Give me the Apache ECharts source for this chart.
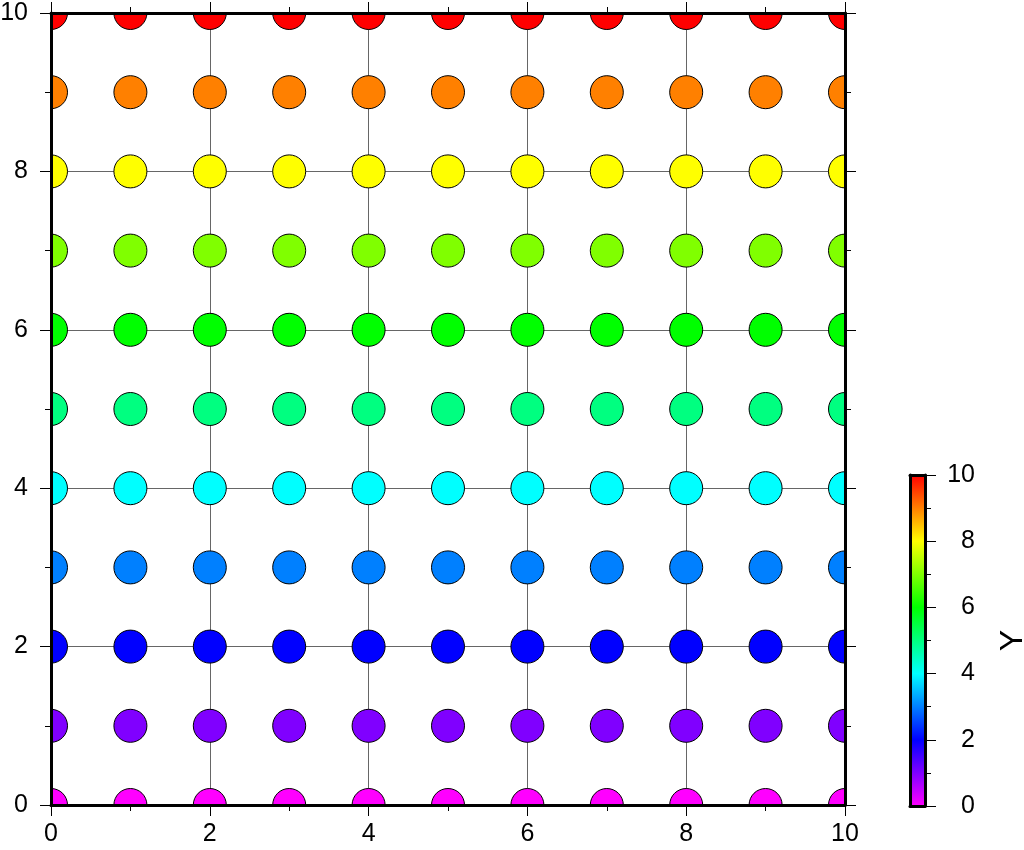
<!DOCTYPE html>
<html>
<head>
<meta charset="utf-8">
<script src="https://cdn.jsdelivr.net/npm/echarts@6/dist/echarts.min.js"></script>
<style>html,body{margin:0;padding:0;background:#fff}#c{width:1024px;height:850px}</style>
</head>
<body>
<div id="c"></div>
<script>
// Data
const xValues = [0,1,2,3,4,5,6,7,8,9,10];
const yValues = [0,1,2,3,4,5,6,7,8,9,10];
const colorStops = ['#ff00ff','#0000ff','#00ffff','#00ff00','#ffff00','#ff0000'];
const colorRange = [0, 10];
const barName = 'Y';

const points = [];
for (const y of yValues) for (const x of xValues) points.push([x, y]);

const FONT = 'Liberation Sans';
const chart = echarts.init(document.getElementById('c'), null, {renderer: 'canvas'});

function frameAxis(extra) {
  return Object.assign({
    type: 'value', min: 0, max: 10, interval: 2, z: 10,
    axisLine: {show: true, onZero: false, lineStyle: {color: '#000', width: 3}},
    axisTick: {show: true, inside: false, length: 11, lineStyle: {color: '#000', width: 1}},
    minorTick: {show: true, splitNumber: 2, length: 6, lineStyle: {color: '#000', width: 1}},
    axisLabel: {show: false},
    splitLine: {show: false}
  }, extra);
}
const labelStyle = {show: true, color: '#000', fontFamily: FONT, fontSize: 25};

const option = {
  animation: false,
  backgroundColor: '#fff',
  grid: [
    {left: 51, top: 13, width: 794, height: 792, containLabel: false, outerBoundsMode: 'none'},
    {left: 910, top: 475, width: 15, height: 331, containLabel: false, outerBoundsMode: 'none'}
  ],
  visualMap: {
    show: false, type: 'continuous', seriesIndex: 0, dimension: 1,
    min: colorRange[0], max: colorRange[1], inRange: {color: colorStops}
  },
  xAxis: [
    frameAxis({gridIndex: 0, position: 'bottom', axisLabel: Object.assign({margin: 17}, labelStyle)}),
    frameAxis({gridIndex: 0, position: 'top'}),
    {type: 'value', gridIndex: 0, position: 'bottom', min: 0, max: 10, interval: 2, z: 0,
     axisLine: {show: false}, axisTick: {show: false}, axisLabel: {show: false},
     splitLine: {show: true, lineStyle: {color: '#666', width: 1}}},
    {type: 'value', gridIndex: 1, position: 'bottom', min: 0, max: 1, z: 10,
     axisLine: {show: true, onZero: false, lineStyle: {color: '#000', width: 3}},
     axisTick: {show: false}, axisLabel: {show: false}, splitLine: {show: false}},
    {type: 'value', gridIndex: 1, position: 'top', min: 0, max: 1, z: 10,
     axisLine: {show: true, onZero: false, lineStyle: {color: '#000', width: 3}},
     axisTick: {show: false}, axisLabel: {show: false}, splitLine: {show: false}}
  ],
  yAxis: [
    frameAxis({gridIndex: 0, position: 'left', axisLabel: Object.assign({margin: 23}, labelStyle)}),
    frameAxis({gridIndex: 0, position: 'right'}),
    {type: 'value', gridIndex: 0, position: 'left', min: 0, max: 10, interval: 2, z: 0,
     axisLine: {show: false}, axisTick: {show: false}, axisLabel: {show: false},
     splitLine: {show: true, lineStyle: {color: '#666', width: 1}}},
    {type: 'value', gridIndex: 1, position: 'left', min: 0, max: 10, z: 10,
     axisLine: {show: true, onZero: false, lineStyle: {color: '#000', width: 3}},
     axisTick: {show: false}, axisLabel: {show: false}, splitLine: {show: false}},
    frameAxis({gridIndex: 1, position: 'right',
      axisLabel: Object.assign({margin: 50, align: 'right'}, labelStyle),
      name: barName, nameLocation: 'middle', nameRotate: 90, nameGap: 72,
      nameTextStyle: {color: '#000', fontFamily: FONT, fontSize: 32}})
  ],
  series: [
    {
      type: 'custom', xAxisIndex: 0, yAxisIndex: 0, clip: true, z: 2,
      data: points,
      renderItem: function (params, api) {
        const p = api.coord([api.value(0), api.value(1)]);
        return {type: 'circle', shape: {cx: p[0], cy: p[1], r: 16.5},
          style: {fill: api.visual('color'), stroke: '#000', lineWidth: 1}};
      }
    },
    {
      type: 'custom', xAxisIndex: 3, yAxisIndex: 4, z: 2,
      data: [[0, colorRange[0], colorRange[1]]],
      renderItem: function (params, api) {
        const cs = params.coordSys;
        const lo = api.coord([0, api.value(1)]);
        const hi = api.coord([0, api.value(2)]);
        const stops = colorStops.map((c, i) => ({offset: i / (colorStops.length - 1), color: c}));
        return {type: 'rect', shape: {x: cs.x, y: hi[1], width: cs.width, height: lo[1] - hi[1]},
          style: {fill: new echarts.graphic.LinearGradient(0, 1, 0, 0, stops)}};
      }
    }
  ]
};
chart.setOption(option);
</script>
</body>
</html>
